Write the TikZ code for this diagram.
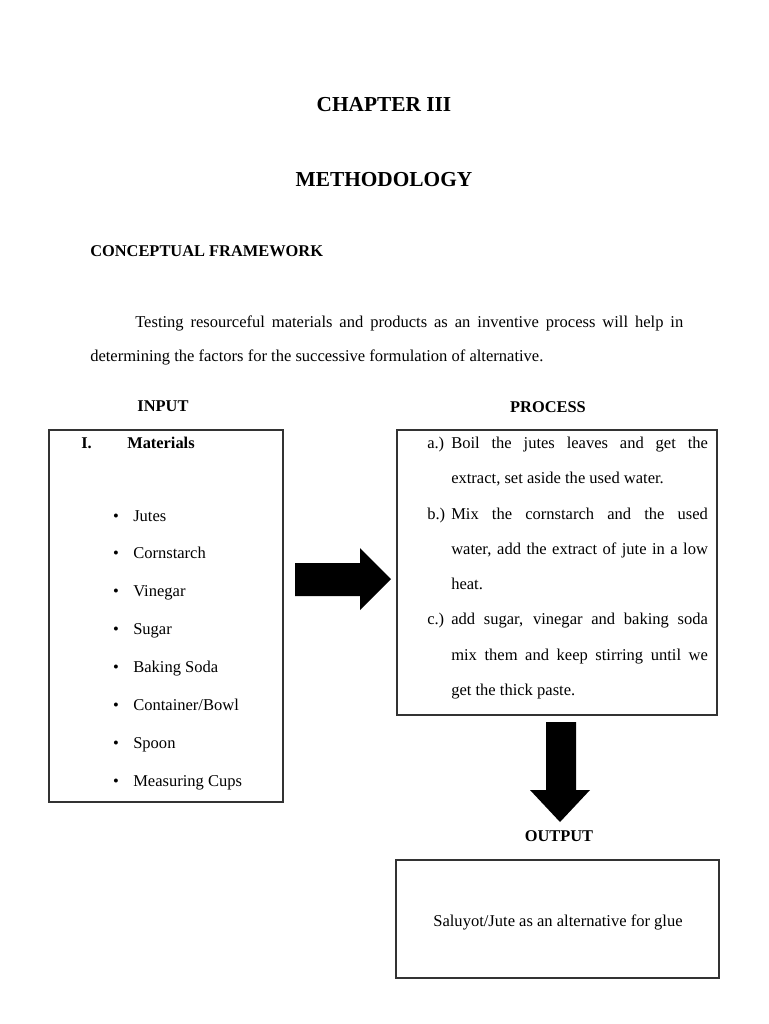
\documentclass[tikz,border=0pt]{standalone}
\usepackage{fontspec}
\setmainfont{Liberation Serif}
\begin{document}
\begin{tikzpicture}[x=0.75pt,y=-0.75pt,
  txt/.style={inner sep=0pt,font=\fontsize{12.4}{15}\selectfont},
  hd/.style={inner sep=0pt,font=\fontsize{12.3}{15}\selectfont\bfseries},
  big/.style={inner sep=0pt,font=\fontsize{16}{19}\selectfont\bfseries},
  box/.style={draw=black!80,line width=0.8pt},
  blk/.style={fill=black,draw=none}]
\useasboundingbox (0,0) rectangle (768,1024);
\fill[white] (0,0) rectangle (768,1024);
% titles
\node[big,anchor=base] (ch) at (384,111) {CHAPTER III};
\node[big,anchor=base] (meth) at (384,186) {METHODOLOGY};
\node[hd,anchor=base west] (cf) at (90,256) {CONCEPTUAL FRAMEWORK};
\node[txt,anchor=base west] (p1) at (135,327) {\makebox[411pt][s]{Testing resourceful materials and products as an inventive process will help in}};
\node[txt,anchor=base west] (p2) at (90,361) {determining the factors for the successive formulation of alternative.};
% column heads
\node[hd,anchor=base] (inh) at (163,411) {INPUT};
\node[hd,anchor=base] (prh) at (548,412) {PROCESS};
\node[hd,anchor=base] (outh) at (559,841) {OUTPUT};
% input box
\draw[box] (49,430) rectangle (283,802);
\node[hd,anchor=base west] (roman) at (81,448) {I.};
\node[hd,anchor=base west] (mat) at (127,448) {Materials};
\foreach \t [count=\i] in {Jutes,Cornstarch,Vinegar,Sugar,Baking Soda,Container/Bowl,Spoon,Measuring Cups}{
  \pgfmathsetmacro{\yy}{521+(\i-1)*37.9}
  \node[txt,anchor=base] (b\i) at (116,\yy) {\textbullet};
  \node[txt,anchor=base west] (m\i) at (133,\yy) {\t};
}
% right arrow
\fill[blk] (295,563) -- (360,563) -- (360,548) -- (391,579) -- (360,610) -- (360,596) -- (295,596) -- cycle;
% process box
\draw[box] (397,430) rectangle (717,715);
\node[txt,anchor=base west] (la) at (427,448) {a.)};
\node[txt,anchor=base west] (a1) at (451,448) {\makebox[192.5pt][s]{Boil the jutes leaves and get the}};
\node[txt,anchor=base west] (a2) at (451,483) {extract, set aside the used water.};
\node[txt,anchor=base west] (lb) at (427,519) {b.)};
\node[txt,anchor=base west] (b1l) at (451,519) {\makebox[192.5pt][s]{Mix the cornstarch and the used}};
\node[txt,anchor=base west] (b2l) at (451,554) {\makebox[192.5pt][s]{water, add the extract of jute in a low}};
\node[txt,anchor=base west] (b3l) at (451,589) {heat.};
\node[txt,anchor=base west] (lc) at (427,624) {c.)};
\node[txt,anchor=base west] (c1) at (451,624) {\makebox[192.5pt][s]{add sugar, vinegar and baking soda}};
\node[txt,anchor=base west] (c2) at (451,660) {\makebox[192.5pt][s]{mix them and keep stirring until we}};
\node[txt,anchor=base west] (c3) at (451,695) {get the thick paste.};
% down arrow
\fill[blk] (546,722) -- (576,722) -- (576,790) -- (590,790) -- (560,822) -- (530,790) -- (546,790) -- cycle;
% output box
\draw[box] (396,860) rectangle (719,978);
\node[txt,anchor=base] (out) at (558,926) {Saluyot/Jute as an alternative for glue};
\end{tikzpicture}
\end{document}
